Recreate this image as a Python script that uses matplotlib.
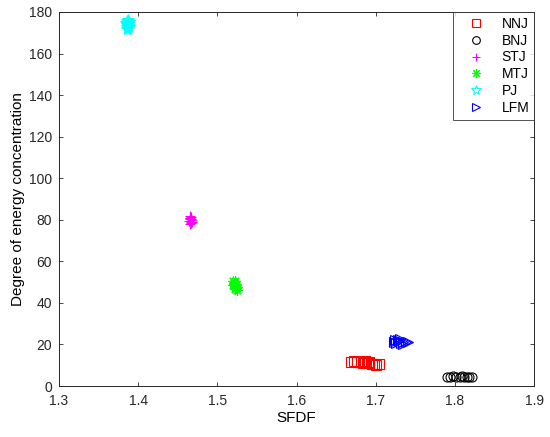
import matplotlib
matplotlib.use("Agg")
import matplotlib.pyplot as plt

plt.rcParams["font.family"] = ["Liberation Sans", "DejaVu Sans"]

# estimated point clouds
nnj_x = [1.669, 1.673, 1.677, 1.681, 1.684, 1.687, 1.690, 1.692, 1.695, 1.698, 1.701, 1.704]
nnj_y = [11.6, 11.9, 11.4, 11.7, 11.2, 12.0, 10.9, 11.5, 10.4, 10.8, 10.1, 10.5]
bnj_x = [1.790, 1.794, 1.798, 1.802, 1.806, 1.809, 1.812, 1.815, 1.818, 1.822]
bnj_y = [4.5, 4.2, 4.6, 4.3, 4.4, 4.7, 4.2, 4.5, 4.3, 4.4]
stj_x = [1.4645, 1.4655, 1.4663, 1.4670, 1.4680, 1.4660, 1.4650, 1.4675,
         1.4668, 1.4658, 1.4672, 1.4652]
stj_y = [79.5, 81.0, 78.5, 80.5, 79.8, 82.0, 77.8, 78.9,
         81.4, 80.2, 79.0, 80.8]
mtj_x = [1.5195, 1.5205, 1.5215, 1.5223, 1.5232, 1.5240, 1.5250, 1.5218,
         1.5228, 1.5210, 1.5236, 1.5200, 1.5245]
mtj_y = [50.6, 49.8, 48.9, 48.2, 47.6, 47.0, 46.4, 50.3, 46.8, 49.3, 48.5, 48.8, 47.8]
pj_x = [1.3852, 1.3860, 1.3868, 1.3875, 1.3882, 1.3865, 1.3870, 1.3858,
        1.3878, 1.3862, 1.3872, 1.3855]
pj_y = [174.5, 175.5, 173.5, 174.2, 173.0, 172.0, 176.0, 172.8,
        175.0, 174.8, 171.6, 173.8]
lfm_x = [1.723, 1.726, 1.729, 1.732, 1.735, 1.738, 1.741, 1.728, 1.734, 1.724, 1.731]
lfm_y = [21.3, 20.6, 21.8, 20.9, 21.4, 21.0, 21.2, 22.3, 20.3, 22.0, 22.4]

fig = plt.figure(figsize=(5.5, 4.37), dpi=100)
ax = fig.add_axes([59 / 550, 1 - 386 / 437, 475 / 550, 374 / 437])

ms = 6.5
ax.plot(nnj_x, nnj_y, "s", color="red", mfc="none", ms=ms, mew=0.8, label="NNJ")
ax.plot(bnj_x, bnj_y, "o", color="black", mfc="none", ms=ms, mew=0.8, label="BNJ")
ax.plot(stj_x, stj_y, "+", color="magenta", ms=ms + 1, mew=0.8, label="STJ")
ax.plot(mtj_x, mtj_y, marker=(8, 2, 0), ls="none", color="#00ff00", ms=ms + 1,
        mew=0.8, label="MTJ")
ax.plot(pj_x, pj_y, "*", color="cyan", mfc="none", ms=ms + 2, mew=0.8, label="PJ")
ax.plot(lfm_x, lfm_y, ">", color="blue", mfc="none", ms=ms, mew=0.8, label="LFM")

ax.set_xlim(1.3, 1.9)
ax.set_ylim(0, 180)
ax.set_xticks([1.3, 1.4, 1.5, 1.6, 1.7, 1.8, 1.9])
ax.set_yticks(range(0, 181, 20))
ax.tick_params(direction="in", top=True, right=True, labelsize=10,
               length=3, width=0.6, colors="#262626")
ax.tick_params(axis="x", pad=6)
ax.tick_params(axis="y", pad=5)
for s in ax.spines.values():
    s.set_color("#262626")
    s.set_linewidth(0.7)

ax.set_xlabel("SFDF", fontsize=11, labelpad=2)
ax.set_ylabel("Degree of energy concentration", fontsize=11, labelpad=3)

leg = ax.legend(loc="upper right", borderaxespad=0, fontsize=10, frameon=True,
                fancybox=False, handlelength=2.7, handletextpad=0.45,
                labelspacing=0.2, borderpad=0.35, markerscale=0.85)
leg.get_frame().set_edgecolor("#262626")
leg.get_frame().set_linewidth(0.7)

fig.savefig("out.png", dpi=100)
